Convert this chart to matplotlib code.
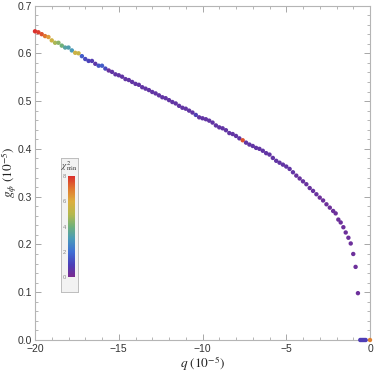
import matplotlib
matplotlib.use("Agg")
import matplotlib.pyplot as plt
import numpy as np
from matplotlib.colors import LinearSegmentedColormap, Normalize
from matplotlib.ticker import MultipleLocator, FixedLocator

plt.rcParams['mathtext.fontset'] = 'stix'
plt.rcParams['font.family'] = ['Liberation Sans', 'DejaVu Sans']

q = [-20.0, -19.8, -19.6, -19.4, -19.2, -19.0, -18.8, -18.6, -18.4, -18.2,
     -18.0, -17.8, -17.6, -17.4, -17.2, -17.0, -16.8, -16.6, -16.4, -16.2,
     -16.0, -15.8, -15.6, -15.4, -15.2, -15.0, -14.8, -14.6, -14.4, -14.2,
     -14.0, -13.8, -13.6, -13.4, -13.2, -13.0, -12.8, -12.6, -12.4, -12.2,
     -12.0, -11.8, -11.6, -11.4, -11.2, -11.0, -10.8, -10.6, -10.4, -10.2,
     -10.0, -9.8, -9.6, -9.4, -9.2, -9.0, -8.8, -8.6, -8.4, -8.2,
     -8.0, -7.8, -7.6, -7.4, -7.2, -7.0, -6.8, -6.6, -6.4, -6.2,
     -6.0, -5.8, -5.6, -5.4, -5.2, -5.0, -4.8, -4.6, -4.4, -4.2,
     -4.0, -3.8, -3.6, -3.4, -3.2, -3.0, -2.8, -2.6, -2.4, -2.2,
     -2.05, -1.89, -1.75, -1.59, -1.45, -1.29, -1.15, -1.0, -0.86, -0.72,
     -0.58, -0.5, -0.42, -0.34, -0.26, 0.0]
g = [0.646, 0.644, 0.640, 0.636, 0.634, 0.627, 0.622, 0.622, 0.616, 0.612,
     0.612, 0.606, 0.601, 0.600, 0.594, 0.588, 0.584, 0.584, 0.578, 0.574,
     0.574, 0.568, 0.564, 0.561, 0.556, 0.554, 0.551, 0.546, 0.544, 0.540,
     0.536, 0.534, 0.529, 0.526, 0.523, 0.519, 0.516, 0.512, 0.508, 0.506,
     0.502, 0.498, 0.495, 0.490, 0.486, 0.484, 0.480, 0.476, 0.471, 0.466,
     0.464, 0.462, 0.459, 0.455, 0.449, 0.445, 0.443, 0.439, 0.433, 0.431,
     0.427, 0.422, 0.418, 0.413, 0.409, 0.406, 0.402, 0.400, 0.396, 0.391,
     0.388, 0.381, 0.375, 0.371, 0.367, 0.363, 0.358, 0.351, 0.344, 0.338,
     0.332, 0.326, 0.318, 0.312, 0.305, 0.298, 0.292, 0.284, 0.277, 0.270,
     0.265, 0.252, 0.246, 0.236, 0.225, 0.214, 0.202, 0.180, 0.153, 0.098,
     0.0, 0.0, 0.0, 0.0, 0.0, 0.0]
chi2 = [8.0, 7.8, 7.5, 7.0, 6.3, 5.6, 4.8, 4.4, 4.0, 3.4,
        3.2, 3.0, 5.6, 5.4, 1.6, 1.2, 1.0, 0.8, 0.6, 1.4,
        1.6, 1.2, 0.4, 0.5, 0.5, 0.5, 0.5, 0.5, 0.5, 0.5,
        0.5, 0.5, 0.5, 0.5, 0.5, 0.5, 0.5, 0.5, 0.5, 0.5,
        0.5, 0.5, 0.5, 0.5, 0.5, 0.5, 0.5, 0.5, 0.9, 0.5,
        0.5, 0.5, 0.5, 0.5, 0.5, 0.5, 0.5, 0.5, 0.5, 0.5,
        0.5, 0.5, 7.5, 0.5, 0.5, 0.5, 0.5, 0.5, 0.5, 0.5,
        0.5, 0.5, 0.5, 0.5, 0.5, 0.5, 0.5, 0.5, 0.4, 0.4,
        0.4, 0.4, 0.4, 0.4, 0.4, 0.3, 0.3, 0.3, 0.3, 0.3,
        0.3, 0.3, 0.3, 0.3, 0.3, 0.3, 0.3, 0.3, 0.3, 0.3,
        0.9, 0.9, 0.9, 0.9, 0.9, 6.8]

cbar_ticks = [0, 2, 4, 6, 8]
x_ticks = [-20, -15, -10, -5, 0]
y_ticks = [0.0, 0.1, 0.2, 0.3, 0.4, 0.5, 0.6, 0.7]

cmap = LinearSegmentedColormap.from_list("mrainbow", [
    (0.0, "#7b2a8f"), (0.12, "#4b3fb8"), (0.25, "#3f6fd4"), (0.38, "#4a9bb8"),
    (0.5, "#6fb07a"), (0.62, "#b4b84e"), (0.75, "#dcae3e"), (0.87, "#e07a30"),
    (1.0, "#da2f2c")])
norm = Normalize(0, 8)

W, H = 374, 375
fig = plt.figure(figsize=(W / 100, H / 100), dpi=100)
ax = fig.add_axes([35 / W, 1 - 340 / H, (370 - 35) / W, (340 - 5.5) / H])

ax.scatter(q, g, c=chi2, cmap=cmap, norm=norm, s=10, linewidths=0, zorder=3,
           clip_on=False)

ax.set_xlim(-20, 0)
ax.set_ylim(0, 0.7)
ax.xaxis.set_major_locator(FixedLocator(x_ticks))
ax.yaxis.set_major_locator(FixedLocator(y_ticks))
ax.xaxis.set_minor_locator(MultipleLocator(1))
ax.yaxis.set_minor_locator(MultipleLocator(0.02))
ax.set_xticklabels(["\u221220", "\u221215", "\u221210", "\u22125", "0"])
ax.set_yticklabels(["0.0", "0.1", "0.2", "0.3", "0.4", "0.5", "0.6", "0.7"])
frame_col = "#b5b5b5"
for sp in ax.spines.values():
    sp.set_color(frame_col)
    sp.set_linewidth(0.8)
ax.tick_params(which='both', direction='in', top=True, right=True,
               color="#999999", labelsize=7.5, labelcolor="#333333", pad=2)
ax.tick_params(axis='x', which='major', pad=3)
ax.tick_params(which='major', length=4, width=0.6)
ax.tick_params(which='minor', length=2, width=0.5)

fig.text(203 / W, 1 - 364 / H, r"$q\ (10^{-5})$", fontsize=9.5, color="#222222",
         ha="center", va="center")
fig.text(9 / W, 1 - 172 / H, r"$g_\phi\ (10^{-5})$", fontsize=9.5, color="#222222",
         ha="center", va="center", rotation=90)

# legend box
bx = fig.add_axes([60.5 / W, 1 - 292 / H, 17 / W, (292 - 158) / H])
bx.set_xticks([]); bx.set_yticks([])
bx.set_facecolor("#f2f2f2")
for sp in bx.spines.values():
    sp.set_color("#bdbdbd")
    sp.set_linewidth(0.7)

cax = fig.add_axes([68.3 / W, 1 - 277 / H, 6.5 / W, (277 - 176) / H])
sm = plt.cm.ScalarMappable(norm=norm, cmap=cmap)
cb = fig.colorbar(sm, cax=cax, ticks=cbar_ticks)
cb.outline.set_visible(False)
cax.yaxis.set_ticks_position('left')
cax.tick_params(length=0, labelsize=4.2, labelcolor="#888888", pad=1.5)
fig.text(69.5 / W, 1 - 166 / H, r"$\chi^2_{\mathrm{min}}$", fontsize=6.5,
         ha="center", va="center", color="#333333")

fig.savefig("out.png", dpi=100)
